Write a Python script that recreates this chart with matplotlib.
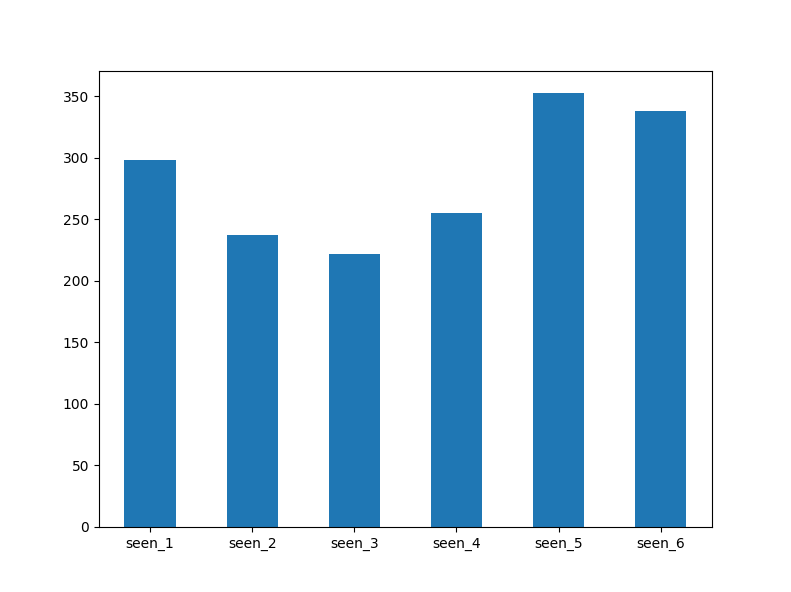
import matplotlib
matplotlib.use("Agg")
import matplotlib.pyplot as plt

categories = ["seen_1", "seen_2", "seen_3", "seen_4", "seen_5", "seen_6"]
counts = [298, 237, 222, 255, 353, 338]

fig, ax = plt.subplots(figsize=(7.91, 5.92), dpi=100)
ax.bar(categories, counts, width=0.5, color="#1f77b4")
ax.set_xlim(-0.5, len(categories) - 0.5)

fig.savefig("out.png", dpi=100)
